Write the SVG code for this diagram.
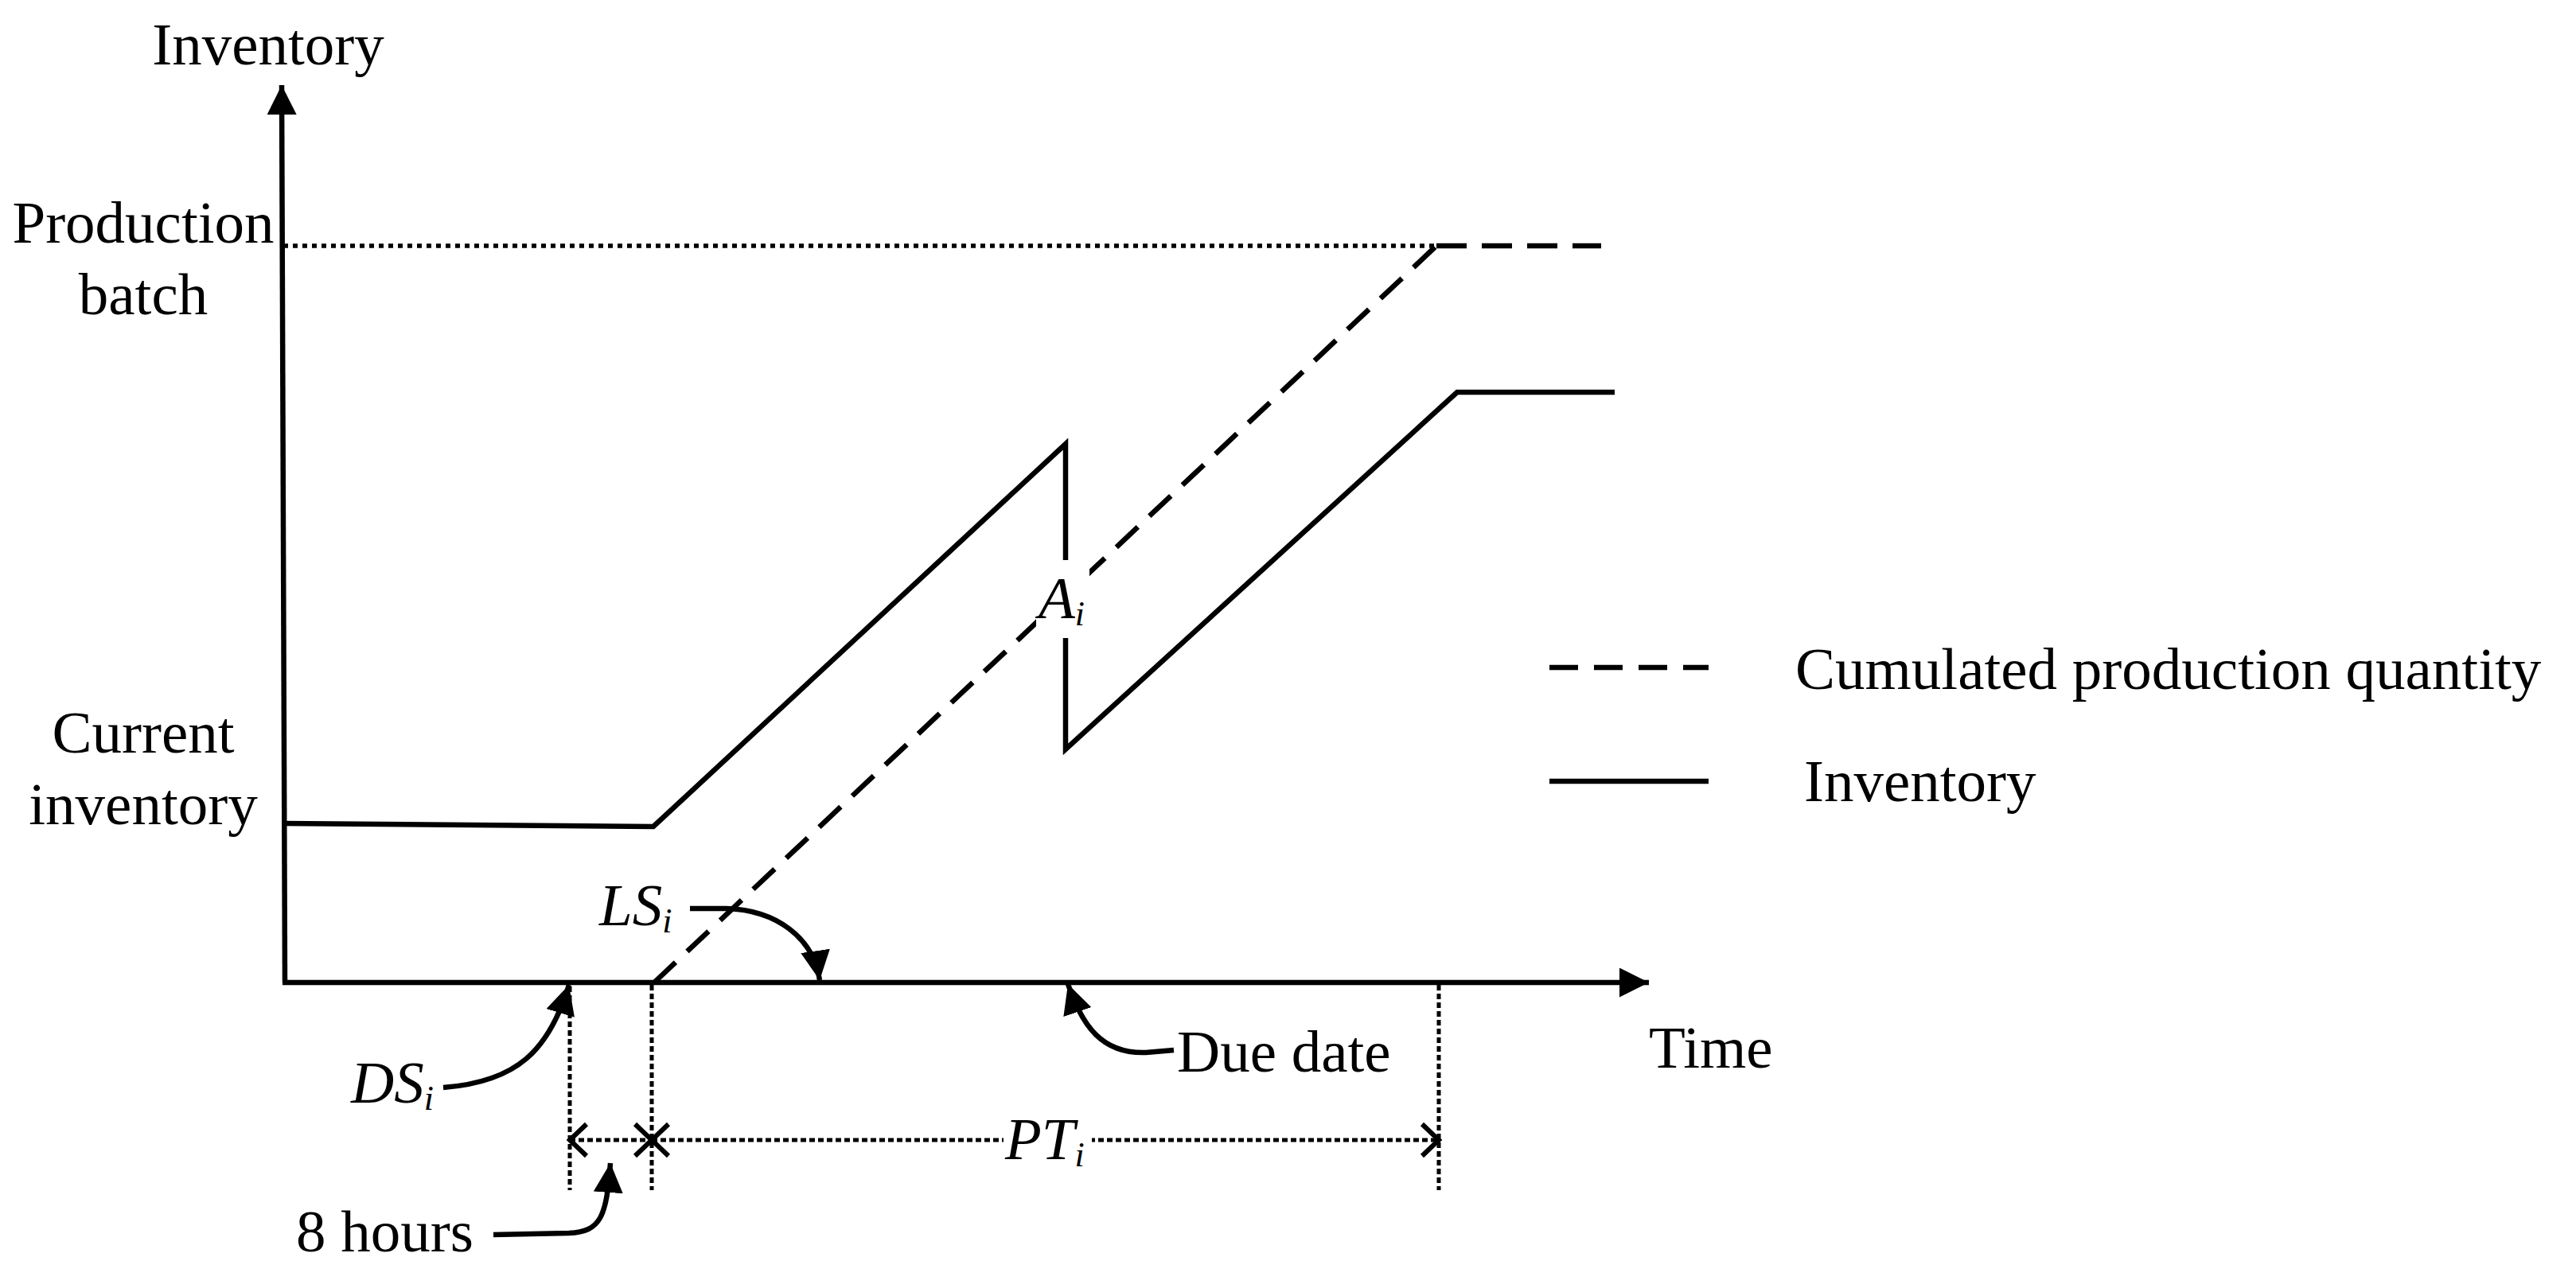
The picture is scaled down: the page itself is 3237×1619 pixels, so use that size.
<svg xmlns="http://www.w3.org/2000/svg" width="3237" height="1619" viewBox="0 0 3237 1619">
<style>
text{font-family:"Liberation Serif","Times New Roman",serif;font-size:75px;fill:#000}
.it{font-style:italic}
.sub{font-size:44px}
.solid{fill:none;stroke:#000;stroke-width:6.5;stroke-linejoin:miter}
.dash{fill:none;stroke:#000;stroke-width:6.5;stroke-dasharray:37 20}
.dot{fill:none;stroke:#000;stroke-width:5;stroke-dasharray:7 4}
.batch{fill:none;stroke:#000;stroke-width:5.5;stroke-dasharray:6 6}
.call{fill:none;stroke:#000;stroke-width:6.5}
</style>
<defs>
<marker id="ah" markerUnits="userSpaceOnUse" viewBox="0 0 37 37" markerWidth="37" markerHeight="37" refX="37" refY="18.5" orient="auto">
<path d="M0,0 L37,18.5 L0,37 z" fill="#000"/>
</marker>
<marker id="chev" markerUnits="userSpaceOnUse" viewBox="-5 -5 32 50" markerWidth="32" markerHeight="50" refX="21" refY="20" orient="auto-start-reverse" overflow="visible">
<path d="M0,0 L21,20 L0,40" fill="none" stroke="#000" stroke-width="6" stroke-dasharray="none"/>
</marker>
</defs>
<rect width="3237" height="1619" fill="#fff"/>

<g id="axes">
<path class="solid" d="M358,1235 L354,107" marker-end="url(#ah)"/>
<path class="solid" d="M355,1235 L2072,1235" marker-end="url(#ah)"/>
</g>

<g id="curves">
<path class="batch" d="M356,309 L1803,309"/>
<path class="dash" d="M822,1235 L1805,309"/>
<path class="dash" style="stroke-dasharray:38 19" d="M1805,309 L2012,309"/>
<path class="solid" d="M356,1035 L821,1039 L1339,558 L1339,942 L1831,493 L2029,493"/>
</g>

<g id="connectors">
<path class="dot" d="M716,1240 L716,1496"/>
<path class="dot" d="M819,1238 L819,1496"/>
<path class="dot" d="M1808,1238 L1808,1496"/>
<path class="dot" d="M716,1433 L819,1433" marker-start="url(#chev)" marker-end="url(#chev)"/>
<path class="dot" d="M819,1433 L1808,1433" marker-start="url(#chev)" marker-end="url(#chev)"/>
<path class="call" d="M867,1142 L913,1142 C975,1144 1022,1178 1030,1232" marker-end="url(#ah)"/>
<path class="call" d="M557,1367 C650,1360 690,1320 715,1238" marker-end="url(#ah)"/>
<path class="call" d="M620,1552 L715,1550 C755,1548 762,1530 767,1462" marker-end="url(#ah)"/>
<path class="call" d="M1475,1320 L1440,1323 C1385,1325 1360,1290 1342,1237" marker-end="url(#ah)"/>
</g>

<g id="axis-labels">
<text x="337" y="81" text-anchor="middle">Inventory</text>
<text x="2072" y="1342">Time</text>
</g>
<g id="label-production-batch">
<text x="180" y="305" text-anchor="middle">Production</text>
<text x="180" y="395" text-anchor="middle">batch</text>
</g>
<g id="label-current-inventory">
<text x="180" y="946" text-anchor="middle">Current</text>
<text x="180" y="1036" text-anchor="middle">inventory</text>
</g>
<g id="label-Ai">
<rect x="1302" y="704" width="67" height="98" fill="#fff"/>
<text x="1305" y="777" class="it">A<tspan class="sub" dy="9">i</tspan></text>
</g>
<g id="label-LSi">
<text x="753" y="1163" class="it">LS<tspan class="sub" dy="9">i</tspan></text>
</g>
<g id="label-DSi">
<text x="441" y="1386" class="it">DS<tspan class="sub" dy="9">i</tspan></text>
</g>
<g id="label-PTi">
<rect x="1261" y="1395" width="111" height="80" fill="#fff"/>
<text x="1263" y="1457" class="it">PT<tspan class="sub" dy="9">i</tspan></text>
</g>
<g id="label-due-date">
<text x="1479" y="1347">Due date</text>
</g>
<g id="label-8-hours">
<text x="372" y="1573">8 hours</text>
</g>
<g id="legend">
<path class="dash" style="stroke-dasharray:36 20" d="M1947,839 L2147,839"/>
<path class="solid" d="M1947,982 L2147,982"/>
<text x="2256" y="866">Cumulated production quantity</text>
<text x="2267" y="1007">Inventory</text>
</g>
</svg>
